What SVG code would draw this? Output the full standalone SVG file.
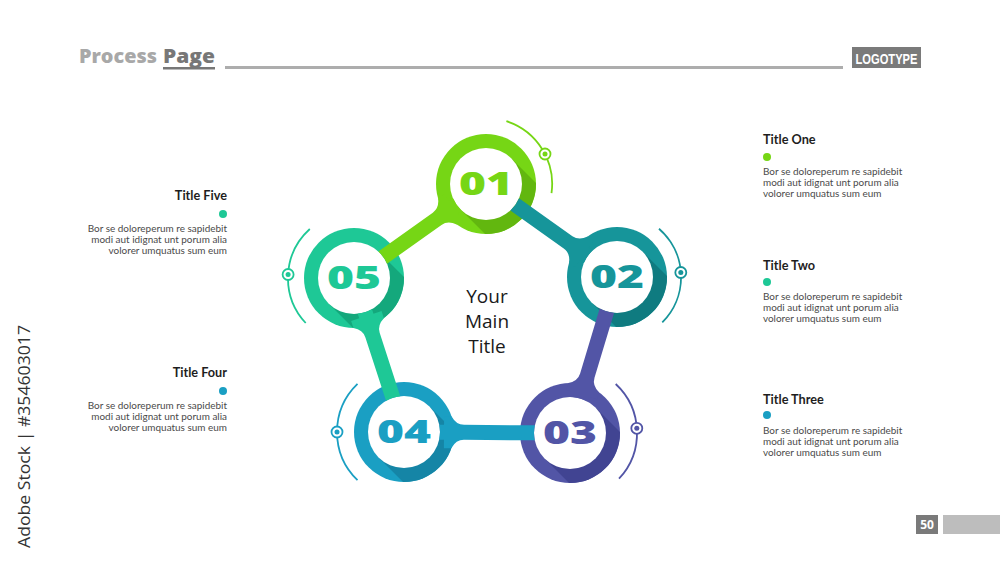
<svg xmlns="http://www.w3.org/2000/svg" width="1000" height="562" viewBox="0 0 1000 562">
<style>
.hd{font-family:"Open Sans","Liberation Sans",sans-serif;font-weight:800;font-size:19px}
.num{font-family:"Open Sans","Liberation Sans",sans-serif;font-weight:800;font-size:31px;text-anchor:middle}
.ttl{font-family:Lato,"Liberation Sans",sans-serif;font-weight:700;font-size:12.7px;fill:#1e1e1e}
.body{font-family:Lato,"Liberation Sans",sans-serif;font-size:9.95px;fill:#4a4a4a}
.r{text-anchor:end}
.main{font-family:"Open Sans","Liberation Sans",sans-serif;font-size:19px;fill:#1a1a1a;text-anchor:middle}
.deco{fill:none;stroke-width:1.8}
.inner{fill:#fff}
</style>
<defs>
<clipPath id="ringClip" clipPathUnits="userSpaceOnUse"><circle cx="0" cy="0" r="50"/></clipPath>
</defs>
<rect width="1000" height="562" fill="#fff"/>

<g id="header">
<text class="hd" x="79" y="63" fill="#a8a8a8" textLength="78" lengthAdjust="spacingAndGlyphs">Process</text>
<text class="hd" x="163" y="63" fill="#777" textLength="52" lengthAdjust="spacingAndGlyphs">Page</text>
<rect x="163" y="67" width="52" height="2.5" fill="#777"/>
<rect x="225" y="66" width="618" height="3" fill="#adadad"/>
<rect x="852" y="47" width="69" height="21" fill="#7a7a7a"/>
<text x="886.5" y="64" fill="#fff" font-family="Liberation Sans, sans-serif" font-weight="700" font-size="15" text-anchor="middle" textLength="62" lengthAdjust="spacingAndGlyphs">LOGOTYPE</text>
</g>

<g id="node-01">
<circle cx="486" cy="184" r="50" fill="#76d615"/>
<g transform="translate(486,184)"><g clip-path="url(#ringClip)"><rect transform="rotate(45)" x="0" y="-36" width="90" height="72" fill="#62b70f"/></g></g>
<circle class="inner" cx="486" cy="184" r="36"/>
<text class="num" x="486" y="195" fill="#76d615" textLength="54" lengthAdjust="spacingAndGlyphs">01</text>
<path class="deco" stroke="#76d615" d="M506.4,121.2 A66,66 0 0 1 551.5,193.2"/>
<circle cx="545" cy="154" r="5.5" fill="#fff" stroke="#76d615" stroke-width="1.8"/>
<circle cx="545" cy="154" r="2.5" fill="#76d615"/>
</g>

<g id="node-02">
<circle cx="617" cy="277" r="50" fill="#16959a"/>
<g transform="translate(617,277)"><g clip-path="url(#ringClip)"><rect transform="rotate(45)" x="0" y="-36" width="90" height="72" fill="#0f7b80"/></g></g>
<circle class="inner" cx="617" cy="277" r="36"/>
<text class="num" x="617" y="288" fill="#16959a" textLength="54" lengthAdjust="spacingAndGlyphs">02</text>
<path class="deco" stroke="#16959a" d="M659,228.7 A64,64 0 0 1 662.3,322.3"/>
<circle cx="680.8" cy="272.5" r="5.5" fill="#fff" stroke="#16959a" stroke-width="1.8"/>
<circle cx="680.8" cy="272.5" r="2.5" fill="#16959a"/>
</g>

<g id="node-03">
<circle cx="570" cy="433" r="50" fill="#5255a6"/>
<g transform="translate(570,433)"><g clip-path="url(#ringClip)"><rect transform="rotate(45)" x="0" y="-36" width="90" height="72" fill="#414492"/></g></g>
<circle class="inner" cx="570" cy="433" r="36"/>
<text class="num" x="570" y="444" fill="#5255a6" textLength="54" lengthAdjust="spacingAndGlyphs">03</text>
<path class="deco" stroke="#5255a6" d="M615.7,384 A67,67 0 0 1 619,478.7"/>
<circle cx="636.8" cy="428.3" r="5.5" fill="#fff" stroke="#5255a6" stroke-width="1.8"/>
<circle cx="636.8" cy="428.3" r="2.5" fill="#5255a6"/>
</g>

<g id="node-04">
<circle cx="404" cy="432" r="50" fill="#1a9fc3"/>
<g transform="translate(404,432)"><g clip-path="url(#ringClip)"><rect transform="rotate(45)" x="0" y="-36" width="90" height="72" fill="#1585a6"/></g></g>
<circle class="inner" cx="404" cy="432" r="36"/>
<text class="num" x="404" y="443" fill="#1a9fc3" textLength="54" lengthAdjust="spacingAndGlyphs">04</text>
<path class="deco" stroke="#1a9fc3" d="M357.5,383.8 A67,67 0 0 0 357.5,480.2"/>
<circle cx="337" cy="432" r="5.5" fill="#fff" stroke="#1a9fc3" stroke-width="1.8"/>
<circle cx="337" cy="432" r="2.5" fill="#1a9fc3"/>
</g>

<g id="node-05">
<circle cx="354" cy="278" r="50" fill="#1ec896"/>
<g transform="translate(354,278)"><g clip-path="url(#ringClip)"><rect transform="rotate(45)" x="0" y="-36" width="90" height="72" fill="#14a87c"/></g></g>
<circle class="inner" cx="354" cy="278" r="36"/>
<text class="num" x="354" y="289" fill="#1ec896" textLength="54" lengthAdjust="spacingAndGlyphs">05</text>
<path class="deco" stroke="#1ec896" d="M309.8,229 A66,66 0 0 0 305.7,323"/>
<circle cx="288.1" cy="274.5" r="5.5" fill="#fff" stroke="#1ec896" stroke-width="1.8"/>
<circle cx="288.1" cy="274.5" r="2.5" fill="#1ec896"/>
</g>

<g id="connectors">
<path fill="#76d615" transform="translate(486,184) rotate(144.54)" d="M35.21,-7.5 L40,-7.5 L40,-16 L47.4,-16 Q52,-7.5 60,-7.5 L126.84,-7.5 A36,36 0 0 0 126.84,7.5 L60,7.5 Q52,7.5 47.4,16 L40,16 L40,7.5 L35.21,7.5 A36,36 0 0 0 35.21,-7.5 Z"/>
<path fill="#16959a" transform="translate(617,277) rotate(-144.63)" d="M35.21,-7.5 L40,-7.5 L40,-16 L47.4,-16 Q52,-7.5 60,-7.5 L125.44,-7.5 A36,36 0 0 0 125.44,7.5 L60,7.5 Q52,7.5 47.4,16 L40,16 L40,7.5 L35.21,7.5 A36,36 0 0 0 35.21,-7.5 Z"/>
<path fill="#5255a6" transform="translate(570,433) rotate(-73.23)" d="M35.21,-7.5 L40,-7.5 L40,-16 L47.4,-16 Q52,-7.5 60,-7.5 L127.72,-7.5 A36,36 0 0 0 127.72,7.5 L60,7.5 Q52,7.5 47.4,16 L40,16 L40,7.5 L35.21,7.5 A36,36 0 0 0 35.21,-7.5 Z"/>
<path fill="#1a9fc3" transform="translate(404,432) rotate(0.35)" d="M35.21,-7.5 L40,-7.5 L40,-16 L47.4,-16 Q52,-7.5 60,-7.5 L130.79,-7.5 A36,36 0 0 0 130.79,7.5 L60,7.5 Q52,7.5 47.4,16 L40,16 L40,7.5 L35.21,7.5 A36,36 0 0 0 35.21,-7.5 Z"/>
<path fill="#1ec896" transform="translate(354,278) rotate(72.01)" d="M35.21,-7.5 L40,-7.5 L40,-16 L47.4,-16 Q52,-7.5 60,-7.5 L126.69,-7.5 A36,36 0 0 0 126.69,7.5 L60,7.5 Q52,7.5 47.4,16 L40,16 L40,7.5 L35.21,7.5 A36,36 0 0 0 35.21,-7.5 Z"/>
</g>

<g id="main-title">
<text class="main" x="487" y="303">Your</text>
<text class="main" x="487" y="328">Main</text>
<text class="main" x="487" y="353">Title</text>
</g>

<g id="text-one">
<text class="ttl" x="763" y="144">Title One</text>
<circle cx="767" cy="157" r="4" fill="#76d615"/>
<text class="body" x="763" y="175">Bor se doloreperum re sapidebit</text>
<text class="body" x="763" y="186">modi aut idignat unt porum alia</text>
<text class="body" x="763" y="197">volorer umquatus sum eum</text>
</g>
<g id="text-two">
<text class="ttl" x="763" y="270">Title Two</text>
<circle cx="767" cy="282" r="4" fill="#1ec896"/>
<text class="body" x="763" y="300">Bor se doloreperum re sapidebit</text>
<text class="body" x="763" y="311">modi aut idignat unt porum alia</text>
<text class="body" x="763" y="322">volorer umquatus sum eum</text>
</g>
<g id="text-three">
<text class="ttl" x="763" y="404">Title Three</text>
<circle cx="767" cy="415" r="4" fill="#1a9fc3"/>
<text class="body" x="763" y="434">Bor se doloreperum re sapidebit</text>
<text class="body" x="763" y="445">modi aut idignat unt porum alia</text>
<text class="body" x="763" y="456">volorer umquatus sum eum</text>
</g>
<g id="text-four">
<text class="ttl r" x="227" y="377">Title Four</text>
<circle cx="223" cy="391" r="4" fill="#1a9fc3"/>
<text class="body r" x="227" y="409">Bor se doloreperum re sapidebit</text>
<text class="body r" x="227" y="420">modi aut idignat unt porum alia</text>
<text class="body r" x="227" y="431">volorer umquatus sum eum</text>
</g>
<g id="text-five">
<text class="ttl r" x="227" y="200">Title Five</text>
<circle cx="223" cy="214" r="4" fill="#1ec896"/>
<text class="body r" x="227" y="232">Bor se doloreperum re sapidebit</text>
<text class="body r" x="227" y="243">modi aut idignat unt porum alia</text>
<text class="body r" x="227" y="254">volorer umquatus sum eum</text>
</g>

<g id="footer">
<rect x="916" y="515" width="22" height="19" fill="#7a7a7a"/>
<text x="927" y="529" fill="#fff" font-family="Open Sans, Liberation Sans, sans-serif" font-weight="700" font-size="12" text-anchor="middle">50</text>
<rect x="943" y="515" width="57" height="19" fill="#bdbdbd"/>
</g>

<text transform="translate(30,548) rotate(-90)" font-family="Open Sans, Liberation Sans, sans-serif" font-size="17" fill="#333" textLength="223" lengthAdjust="spacingAndGlyphs">Adobe Stock | #354603017</text>
</svg>
